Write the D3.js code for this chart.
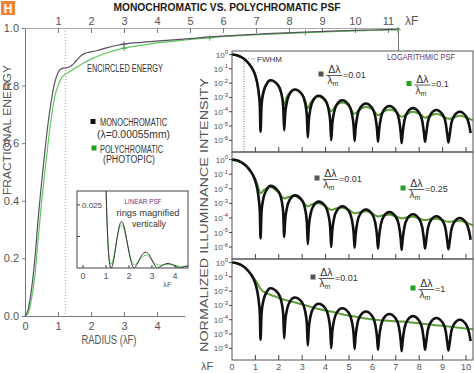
<!DOCTYPE html>
<html>
<head>
<meta charset="utf-8">
<script src="https://cdn.jsdelivr.net/npm/d3@7/dist/d3.min.js"></script>
<style>
  body { margin: 0; background: #fff; }
  svg { display: block; font-family: "Liberation Sans", Arial, sans-serif; }
</style>
</head>
<body>
<svg id="chart" width="474" height="373"></svg>
<script>
// ---- data ----
// encircled energy, [radius in λF, fraction]
const eeMono = [[0,0],[0.1,0.025],[0.2,0.095],[0.3,0.2],[0.4,0.34],[0.5,0.46],[0.6,0.57],[0.7,0.67],[0.8,0.75],[0.9,0.81],[1.0,0.845],[1.1,0.858],[1.2,0.861],[1.3,0.863],[1.4,0.869],[1.5,0.879],[1.6,0.892],[1.7,0.904],[1.8,0.911],[1.9,0.915],[2.0,0.917],[2.2,0.922],[2.5,0.932],[2.8,0.94],[3.0,0.944],[3.4,0.949],[3.8,0.953],[4.4,0.958],[5.0,0.963],[5.6,0.969],[6.5,0.975],[7.5,0.981],[8.5,0.986],[9.5,0.99],[10.5,0.993],[11.3,0.995]];
const eePoly = [[0,0],[0.1,0.01],[0.2,0.06],[0.3,0.14],[0.4,0.27],[0.5,0.39],[0.6,0.5],[0.7,0.6],[0.8,0.69],[0.9,0.76],[1.0,0.8],[1.1,0.825],[1.2,0.838],[1.3,0.845],[1.4,0.852],[1.6,0.866],[1.8,0.88],[2.0,0.892],[2.2,0.902],[2.5,0.914],[2.8,0.924],[3.0,0.93],[3.4,0.938],[3.8,0.945],[4.4,0.953],[5.0,0.96],[5.6,0.966],[6.5,0.973],[7.5,0.979],[8.5,0.984],[9.5,0.988],[10.5,0.992],[11.3,0.994]];
const eeMarksMono = [[3.0,0.944]];
const eeMarksPoly = [[3.0,0.93],[5.6,0.966],[8.5,0.984],[11.3,0.994]];
const airyFirstZero = 1.22;

// linear PSF inset, [λF, intensity]
const linMono = [[0.9,0.084],[0.95,0.055],[1.0,0.033],[1.05,0.018],[1.1,0.0075],[1.15,0.0022],[1.22,0],[1.3,0.0016],[1.4,0.0068],[1.5,0.0128],[1.6,0.0172],[1.67,0.0183],[1.75,0.0175],[1.85,0.0138],[1.95,0.0088],[2.05,0.0042],[2.14,0.0012],[2.23,0],[2.35,0.0014],[2.5,0.0042],[2.65,0.006],[2.74,0.0063],[2.85,0.0056],[3.0,0.0032],[3.12,0.0011],[3.24,0],[3.4,0.0007],[3.58,0.0016],[3.72,0.0018],[3.9,0.0013],[4.1,0.0004],[4.24,0],[4.4,0.0005],[4.57,0.0009]];
const linPoly = [[0.9,0.082],[0.95,0.054],[1.0,0.032],[1.05,0.018],[1.1,0.008],[1.15,0.0035],[1.22,0.0015],[1.3,0.0028],[1.4,0.0072],[1.5,0.0125],[1.6,0.0163],[1.67,0.017],[1.75,0.0163],[1.85,0.013],[1.95,0.0088],[2.05,0.0048],[2.14,0.0022],[2.25,0.0012],[2.38,0.0022],[2.52,0.0038],[2.66,0.0049],[2.75,0.0051],[2.87,0.0045],[3.0,0.0031],[3.15,0.0017],[3.3,0.0011],[3.5,0.0013],[3.7,0.0015],[3.9,0.0012],[4.1,0.0008],[4.3,0.0006],[4.57,0.0007]];

// log PSF, [λF, log10 intensity]
const psfMono = [[0,0],[0.2,-0.04],[0.4,-0.18],[0.6,-0.42],[0.8,-0.81],[0.9,-1.08],[1.0,-1.48],[1.08,-2.0],[1.15,-2.8],[1.19,-3.6],[1.22,-5.4],
  [1.26,-3.6],[1.34,-2.67],[1.47,-2.1],[1.64,-1.8],[1.97,-2.15],[2.11,-2.72],[2.19,-3.65],[2.23,-5.3],
  [2.27,-4.2],[2.35,-3.3],[2.48,-2.72],[2.68,-2.45],[2.99,-2.78],[3.12,-3.35],[3.2,-4.3],[3.24,-5.8],
  [3.28,-4.65],[3.36,-3.73],[3.49,-3.15],[3.7,-2.88],[3.99,-3.2],[4.12,-3.78],[4.2,-4.72],[4.24,-6.0],
  [4.28,-4.97],[4.36,-4.05],[4.49,-3.47],[4.71,-3.2],[4.99,-3.52],[5.12,-4.1],[5.2,-5.03],[5.24,-6.05],
  [5.28,-5.2],[5.36,-4.27],[5.49,-3.7],[5.72,-3.42],[5.99,-3.74],[6.12,-4.31],[6.2,-5.25],[6.24,-6.1],
  [6.28,-5.38],[6.36,-4.45],[6.49,-3.88],[6.72,-3.6],[7.0,-3.92],[7.13,-4.49],[7.21,-5.42],[7.25,-6.2],
  [7.29,-5.53],[7.37,-4.6],[7.5,-4.03],[7.73,-3.75],[8.0,-4.07],[8.13,-4.64],[8.21,-5.57],[8.25,-6.1],
  [8.29,-5.66],[8.37,-4.73],[8.5,-4.16],[8.73,-3.88],[9.0,-4.2],[9.13,-4.77],[9.21,-5.7],[9.25,-6.15],
  [9.29,-5.78],[9.37,-4.85],[9.5,-4.28],[9.73,-4.0],[10.0,-4.32],[10.13,-4.89],[10.2,-5.5]];
const psfPolyA = [[0,0],[0.4,-0.18],[0.8,-0.82],[1.0,-1.5],[1.1,-2.25],[1.16,-2.9],[1.22,-3.4],[1.28,-2.95],[1.4,-2.3],[1.64,-1.82],[1.97,-2.16],[2.12,-2.8],[2.23,-3.5],[2.34,-2.95],[2.68,-2.47],[3.0,-2.8],[3.14,-3.3],[3.24,-3.75],[3.36,-3.35],[3.7,-2.93],[4.0,-3.3],[4.24,-3.95],[4.45,-3.55],[4.71,-3.35],[5.0,-3.6],[5.24,-4.15],[5.45,-3.85],[5.72,-3.65],[6.0,-3.85],[6.24,-4.25],[6.48,-4.0],[6.72,-3.85],[7.0,-4.0],[7.25,-4.35],[7.5,-4.15],[7.73,-4.0],[8.0,-4.15],[8.25,-4.42],[8.5,-4.28],[8.73,-4.15],[9.0,-4.3],[9.25,-4.5],[9.5,-4.4],[9.73,-4.28],[10.0,-4.4],[10.3,-4.6]];
const psfPolyB = [[0,0],[0.4,-0.18],[0.8,-0.8],[1.0,-1.35],[1.1,-1.8],[1.22,-2.3],[1.35,-2.1],[1.64,-1.87],[1.95,-2.2],[2.23,-2.66],[2.45,-2.55],[2.68,-2.5],[2.95,-2.75],[3.24,-3.2],[3.45,-3.05],[3.7,-3.0],[3.95,-3.15],[4.24,-3.45],[4.45,-3.35],[4.71,-3.3],[5.0,-3.45],[5.24,-3.68],[5.5,-3.6],[5.72,-3.55],[6.0,-3.7],[6.24,-3.9],[6.5,-3.8],[6.72,-3.78],[7.0,-3.9],[7.25,-4.02],[7.5,-3.95],[7.73,-3.92],[8.0,-4.05],[8.25,-4.15],[8.5,-4.08],[8.73,-4.05],[9.0,-4.15],[9.25,-4.27],[9.5,-4.22],[9.73,-4.2],[10.0,-4.32],[10.3,-4.5]];
const psfPolyC = [[0,0],[0.3,-0.1],[0.5,-0.28],[0.7,-0.58],[0.9,-1.0],[1.1,-1.5],[1.22,-1.85],[1.5,-2.15],[1.8,-2.35],[2.23,-2.6],[2.7,-2.8],[3.24,-3.04],[3.7,-3.25],[4.24,-3.43],[4.7,-3.62],[5.24,-3.78],[5.7,-3.92],[6.24,-4.02],[6.7,-4.08],[7.25,-4.13],[7.7,-4.2],[8.25,-4.3],[8.7,-4.38],[9.25,-4.48],[9.7,-4.56],[10.3,-4.67]];
const monoBandwidth = "0.01";
const polyBandwidths = ["0.1", "0.25", "1"];
const fwhmHalf = 0.51;

// ticks
const mainYTicks = [0, 0.2, 0.4, 0.6, 0.8, 1.0];
const mainTopTicks = [1, 2, 3, 4, 5, 6, 7, 8, 9, 10, 11];
const mainBottomTicks = [0, 1, 2, 3, 4];
const insetXTicks = [0, 1, 2, 3, 4];
const insetYTicks = [0.0125, 0.025];
const logYTicks = [0, -1, -2, -3, -4, -5, -6];
const logXTicks = [0, 1, 2, 3, 4, 5, 6, 7, 8, 9, 10];

const grey = "#555";
const monoCol = "#5a5060";
const polyCol = "#5cc95c";
const psfBlack = "#111";
const psfGreen = "#5c9e34";

const svg = d3.select("#chart");

function label(txt, x, y, o = {}) {
  const t = svg.append("text")
    .attr("x", x).attr("y", y)
    .attr("text-anchor", o.anchor || "start")
    .attr("font-size", o.size || 10)
    .attr("fill", o.fill || grey)
    .text(txt);
  if (o.weight) t.attr("font-weight", o.weight);
  if (o.family) t.attr("font-family", o.family);
  if (o.len) t.attr("textLength", o.len).attr("lengthAdjust", "spacingAndGlyphs");
  if (o.rotate) t.attr("transform", `rotate(${o.rotate},${x},${y})`);
  return t;
}

// badge + title
svg.append("rect").attr("x", 1).attr("y", 1).attr("width", 14).attr("height", 14).attr("fill", "#ef8434");
label("H", 8, 12.5, { anchor: "middle", size: 12, fill: "#fff", weight: "bold" });
label("MONOCHROMATIC VS. POLYCHROMATIC PSF", 227, 11, { anchor: "middle", size: 11, fill: "#1a1a1a", weight: "bold", len: 227 });

// ---- main encircled energy plot ----
const x = d3.scaleLinear().domain([0, 11.35]).range([25, 399.5]);
const y = d3.scaleLinear().domain([0, 1]).range([316, 28]);
const xb = d3.scaleLinear().domain([0, (185 - 25) / 33]).range([25, 185]);

function styleAxis(g, size) {
  g.selectAll("path, line").attr("stroke", "#777");
  g.selectAll("text").attr("fill", grey).attr("font-size", size).attr("font-family", "Liberation Sans, Arial, sans-serif");
}

svg.append("g").attr("transform", "translate(25,0)")
  .call(d3.axisLeft(y).tickValues(mainYTicks).tickSize(3).tickSizeOuter(0).tickPadding(3).tickFormat(d3.format(".1f")))
  .call(g => styleAxis(g, 11));
svg.append("g").attr("transform", "translate(0,28)")
  .call(d3.axisTop(x).tickValues(mainTopTicks).tickSize(-5).tickSizeOuter(0).tickPadding(3).tickFormat(d3.format("d")))
  .call(g => styleAxis(g, 11))
  .call(g => g.select(".domain").attr("stroke", "#aaa"));
svg.append("g").attr("transform", "translate(0,316)")
  .call(d3.axisBottom(xb).tickValues(mainBottomTicks).tickSize(-4).tickSizeOuter(0).tickPadding(6).tickFormat(d3.format("d")))
  .call(g => styleAxis(g, 11));
svg.append("line").attr("x1", 398.5).attr("x2", 398.5).attr("y1", 28).attr("y2", 51).attr("stroke", "#777");
label("λF", 405, 25, { size: 12 });

svg.append("line")
  .attr("x1", x(airyFirstZero)).attr("x2", x(airyFirstZero)).attr("y1", 28).attr("y2", 316)
  .attr("stroke", "#c58ab8").attr("stroke-dasharray", "1,2");

const eeLine = d3.line().x(d => x(d[0])).y(d => y(d[1])).curve(d3.curveMonotoneX);
svg.append("path").datum(eePoly).attr("d", eeLine).attr("fill", "none").attr("stroke", polyCol).attr("stroke-width", 1.2);
svg.append("path").datum(eeMono).attr("d", eeLine).attr("fill", "none").attr("stroke", monoCol).attr("stroke-width", 1.2);

function crosses(data, col) {
  svg.append("g").selectAll("path").data(data).join("path")
    .attr("d", d => `M${x(d[0]) - 3},${y(d[1])}h6M${x(d[0])},${y(d[1]) - 3}v6`)
    .attr("stroke", col).attr("stroke-width", 0.8);
}
crosses(eeMarksMono, monoCol);
crosses(eeMarksPoly, "#3c9a3c");

const narrow = "Liberation Sans Narrow, Arial Narrow, Liberation Sans, sans-serif";
label("FRACTIONAL ENERGY", 11, 130, { anchor: "middle", size: 11, rotate: -90, len: 130, family: narrow });
label("RADIUS (λF)", 109, 344, { anchor: "middle", size: 12, len: 55, family: narrow });
label("ENCIRCLED ENERGY", 87, 72, { size: 10, len: 76, family: narrow, fill: "#333" });

svg.append("rect").attr("x", 90.5).attr("y", 119).attr("width", 5).attr("height", 5).attr("fill", "#111");
label("MONOCHROMATIC", 100, 126, { size: 10, len: 67, family: narrow, fill: "#333" });
label("(λ=0.00055mm)", 97, 137.5, { size: 10, len: 73, family: narrow, fill: "#333" });
svg.append("rect").attr("x", 91.5).attr("y", 145.5).attr("width", 5).attr("height", 5).attr("fill", "#22a022");
label("POLYCHROMATIC", 100, 152.5, { size: 10, len: 63, family: narrow, fill: "#333" });
label("(PHOTOPIC)", 103, 163, { size: 10, len: 52, family: narrow, fill: "#333" });

// ---- inset: linear PSF ----
const xi = d3.scaleLinear().domain([-0.26, 4.57]).range([77, 188]);
const yi = d3.scaleLinear().domain([0, 0.0305]).range([268, 191]);
svg.append("rect").attr("x", 77).attr("y", 191).attr("width", 111).attr("height", 77).attr("fill", "#fff");
svg.append("clipPath").attr("id", "clip-inset").append("rect").attr("x", 77).attr("y", 191).attr("width", 111).attr("height", 77);
const inset = svg.append("g").attr("clip-path", "url(#clip-inset)");
const linLine = d3.line().x(d => xi(d[0])).y(d => yi(d[1])).curve(d3.curveMonotoneX);
inset.append("path").datum(linPoly).attr("d", linLine).attr("fill", "none").attr("stroke", polyCol).attr("stroke-width", 1);
inset.append("path").datum(linMono).attr("d", linLine).attr("fill", "none").attr("stroke", "#333").attr("stroke-width", 1);
svg.append("rect").attr("x", 77).attr("y", 191).attr("width", 111).attr("height", 77).attr("fill", "none").attr("stroke", "#444");
svg.append("g").selectAll("line").data(insetYTicks).join("line")
  .attr("x1", 77).attr("x2", 80).attr("y1", d => yi(d)).attr("y2", d => yi(d)).attr("stroke", "#444");
svg.append("g").selectAll("line").data(insetXTicks).join("line")
  .attr("x1", d => xi(d)).attr("x2", d => xi(d)).attr("y1", 268).attr("y2", 265).attr("stroke", "#444");
svg.append("g").selectAll("text").data(insetXTicks).join("text")
  .attr("x", d => xi(d)).attr("y", 279).attr("text-anchor", "middle").attr("font-size", 9).attr("fill", grey).text(d => d);
label("0.025", 82, 208, { size: 8, fill: "#444" });
label("λF", 163, 287, { size: 8, fill: grey });
label("LINEAR PSF", 143, 204, { anchor: "middle", size: 8, fill: "#7a2f78", len: 37 });
label("rings magnified", 148, 216, { anchor: "middle", size: 9, fill: "#333", len: 63 });
label("vertically", 149, 227, { anchor: "middle", size: 9, fill: "#333", len: 34 });

// ---- log PSF panels ----
const xl = d3.scaleLinear().domain([0, 10.3]).range([232, 473]);
const panels = [
  { top: 51, bottom: 152, range: [151, 51], poly: psfPolyA, mono: [321, 74], green: [409, 83.5] },
  { top: 152, bottom: 259, range: [258, 156], poly: psfPolyB, mono: [317, 178], green: [403, 188] },
  { top: 259, bottom: 360, range: [359, 259], poly: psfPolyC, mono: [313, 277], green: [413, 288] }
];

function fracLegend(cx, cy, col, value) {
  svg.append("rect").attr("x", cx - 2.5).attr("y", cy - 2.5).attr("width", 5).attr("height", 5).attr("fill", col);
  const fx = cx + 13.5;
  label("Δλ", fx, cy - 1, { anchor: "middle", size: 10.5, fill: "#333" });
  svg.append("line").attr("x1", fx - 8).attr("x2", fx + 8).attr("y1", cy + 1.5).attr("y2", cy + 1.5).attr("stroke", "#333").attr("stroke-width", 0.8);
  const den = label("λ", fx - 1.5, cy + 10, { anchor: "middle", size: 10, fill: "#333" });
  den.append("tspan").attr("font-size", 7).attr("dy", 2).text("m");
  label("=" + value, cx + 22, cy + 3.5, { size: 9, fill: "#333" });
}

panels.forEach((p, i) => {
  const yl = d3.scaleLinear().domain([-6.75, 0.25]).range(p.range);
  const id = "clip-log" + i;
  svg.append("clipPath").attr("id", id).append("rect")
    .attr("x", 232).attr("y", p.top).attr("width", 241).attr("height", p.bottom - p.top);
  const g = svg.append("g").attr("clip-path", `url(#${id})`);
  const psfLine = d3.line().x(d => xl(d[0])).y(d => yl(d[1])).curve(d3.curveMonotoneX);

  if (i === 0) {
    g.append("path")
      .attr("d", `M${xl(fwhmHalf)},${p.bottom}V${yl(-0.3)}H${xl(fwhmHalf) + 12}`)
      .attr("fill", "none").attr("stroke", "#777").attr("stroke-dasharray", "1,1.5");
  }
  g.append("path").datum(p.poly).attr("d", psfLine).attr("fill", "none")
    .attr("stroke", psfGreen).attr("stroke-width", 2);
  g.append("path").datum(psfMono).attr("d", psfLine).attr("fill", "none")
    .attr("stroke", psfBlack).attr("stroke-width", 2.6).attr("stroke-linejoin", "round");

  svg.append("rect").attr("x", 232).attr("y", p.top).attr("width", 241).attr("height", p.bottom - p.top)
    .attr("fill", "none").attr("stroke", "#555");
  svg.append("g").selectAll("line").data(logXTicks.slice(1)).join("line")
    .attr("x1", d => xl(d)).attr("x2", d => xl(d)).attr("y1", p.bottom).attr("y2", p.bottom - 5)
    .attr("stroke", "#444");
  svg.append("g").selectAll("line").data(logYTicks).join("line")
    .attr("x1", 229).attr("x2", 232).attr("y1", d => yl(d)).attr("y2", d => yl(d)).attr("stroke", "#444");
  const tl = svg.append("g").selectAll("text").data(logYTicks).join("text")
    .attr("x", 228).attr("y", d => yl(d) + 3).attr("text-anchor", "end")
    .attr("font-size", 8).attr("fill", grey);
  tl.append("tspan").text("10");
  tl.append("tspan").attr("dy", -3.5).attr("font-size", 6).attr("fill", "#7a2a5e").text(d => d);

  fracLegend(p.mono[0], p.mono[1], "#555", monoBandwidth);
  fracLegend(p.green[0], p.green[1], "#22a022", polyBandwidths[i]);
});

label("FWHM", 257, 62, { size: 8, fill: "#333" });
label("LOGARITHMIC PSF", 421, 60, { anchor: "middle", size: 8.5, fill: "#6a3466", len: 68 });
label("NORMALIZED ILLUMINANCE INTENSITY", 207.5, 215, { anchor: "middle", size: 10, rotate: -90, len: 274, family: narrow });

svg.append("g").selectAll("text").data(logXTicks).join("text")
  .attr("x", d => xl(d)).attr("y", 370).attr("text-anchor", "middle")
  .attr("font-size", 9).attr("fill", grey).text(d => d);
label("λF", 207, 370, { anchor: "middle", size: 11 });
</script>
</body>
</html>
